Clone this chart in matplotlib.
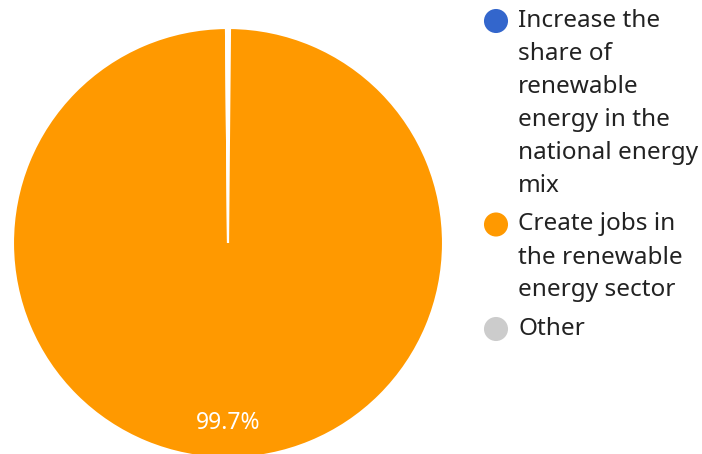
import matplotlib
matplotlib.use("Agg")
import matplotlib.pyplot as plt

plt.rcParams['font.family'] = ['Noto Sans', 'DejaVu Sans']

# data
labels = ["Increase the\nshare of\nrenewable\nenergy in the\nnational energy\nmix",
          "Create jobs in\nthe renewable\nenergy sector",
          "Other"]
values = [0.15, 99.7, 0.15]
colors = ["#3366cc", "#ff9900", "#cccccc"]

W, H = 702, 454
fig = plt.figure(figsize=(W / 100, H / 100), dpi=100)

# pie centre (228, 243) px, radius 215 px
cx, cy, r = 228, 243, 215
ax = fig.add_axes([(cx - r) / W, (H - cy - r) / H, 2 * r / W, 2 * r / H])


def fmt(p):
    return '{:.1f}%'.format(p) if p > 5 else ''


wedges, texts, autotexts = ax.pie(values, colors=colors, startangle=90, counterclock=False,
                                  autopct=fmt, pctdistance=0.835,
                                  wedgeprops=dict(edgecolor='white', linewidth=1.5),
                                  textprops=dict(color='white', fontsize=16.5))
ax.set_xlim(-1, 1)
ax.set_ylim(-1, 1)
ax.set_aspect('equal')
ax.axis('off')

# legend drawn by hand in pixel coordinates (top-aligned markers, wrapped text)
lg = fig.add_axes([0, 0, 1, 1], zorder=5)
lg.set_xlim(0, W)
lg.set_ylim(H, 0)
lg.axis('off')
line_h = 33
gap = 5.5
y = 21
for lab, c in zip(labels, colors):
    lg.scatter([496], [y], s=300, color=c, edgecolors='none')
    lines = lab.split('\n')
    for i, ln in enumerate(lines):
        lg.text(518, y + i * line_h, ln, fontsize=17.5, color='#222222', va='center', ha='left')
    y += len(lines) * line_h + gap

fig.savefig("out.png", dpi=100)
